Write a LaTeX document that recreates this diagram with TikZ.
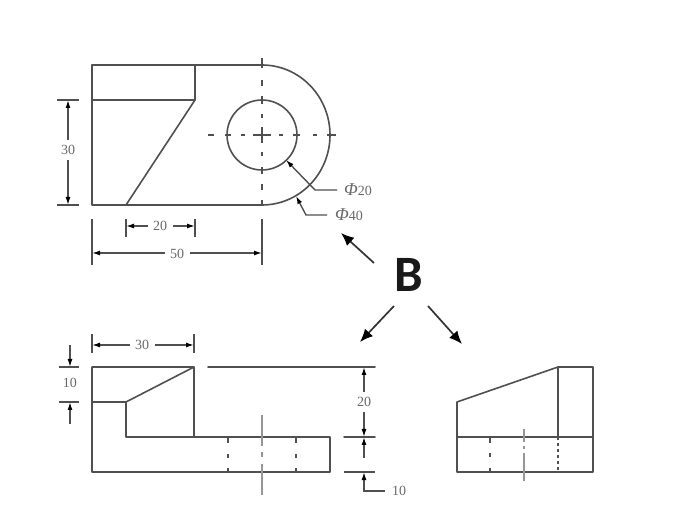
\documentclass[tikz,border=0pt]{standalone}
\usepackage{fontspec}
\setmainfont{Liberation Serif}
\newfontfamily\bigb{Carlito}
\newcommand{\diasym}{{\fontsize{18}{18}\selectfont\itshape Φ}}
\usetikzlibrary{arrows.meta}
\definecolor{ink}{HTML}{505050}
\tikzset{
  edge/.style={draw=ink,line width=1.6pt,line cap=round,line join=round},
  thin dim/.style={draw=ink,line width=1.4pt},
  dimtip/.style={thin dim,-{Latex[length=8pt,width=5pt,black]}},
  dimtext/.style={font=\fontsize{14}{15}\selectfont,text=ink!85,inner sep=0pt},
  axis/.style={draw=ink,line width=1.4pt},
  lightaxis/.style={draw=ink!60,line width=1.3pt},
  hid/.style={draw=ink,line width=1.3pt},
  bigarrow/.style={draw=black!80,line width=1.7pt,-{Latex[length=13pt,width=11pt,black]}},
}
\begin{document}
\begin{tikzpicture}[x=1pt,y=-1pt]
\useasboundingbox[fill=white] (0,0) rectangle (681,505);
% top view
\draw[edge] (262,65) -- (92,65) -- (92,205) -- (262,205);
\draw[edge] (262,65) arc[start angle=-90,end angle=90,x radius=68,y radius=70];
\draw[edge] (195,65) -- (195,100) -- (92,100);
\draw[edge] (195,100) -- (126,205);
\draw[edge] (262,135) circle[radius=35];
% centre lines
\foreach \ya/\yb in {58/68,80/86,96/104,114/118,127/143,152/156,167/174,184/190,200/206}
  \draw[axis] (262,\ya) -- (262,\yb);
\foreach \xa/\xb in {208/214,225/231,241/245,253/271,279/283,293/300,313/317,327/336}
  \draw[axis] (\xa,135) -- (\xb,135);
% top view dimensions
\draw[thin dim] (57,100) -- (79,100) (57,205) -- (79,205);
\draw[dimtip] (68,140) -- (68,100);
\draw[dimtip] (68,160) -- (68,205);
\node[dimtext] (t30a) at (68,150) {30};
\draw[thin dim] (126,219) -- (126,237) (195,219) -- (195,237);
\draw[dimtip] (148,226) -- (126,226);
\draw[dimtip] (173,226) -- (195,226);
\node[dimtext] (t20a) at (160,226) {20};
\draw[thin dim] (92,219) -- (92,265) (262,219) -- (262,265);
\draw[dimtip] (165,253) -- (92,253);
\draw[dimtip] (190,253) -- (262,253);
\node[dimtext] (t50) at (177,254) {50};
% leaders
\draw[dimtip] (337,190) -- (315,190) -- (286,160);
\draw[dimtip] (327,215) -- (306,215) -- (296,196);
\node[dimtext,anchor=west] (d20) at (344,190) {\diasym 20};
\node[dimtext,anchor=west] (d40) at (335,215) {\diasym 40};
% B and arrows
\node[font=\bigb\bfseries\fontsize{51}{51}\selectfont,text=black!90,inner sep=0pt] (B) at (409,275) {B};
\draw[bigarrow] (374,263) -- (341,233);
\draw[bigarrow] (394,306) -- (360,342);
\draw[bigarrow] (428,306) -- (462,344);
% front view
\draw[edge] (194,367) -- (92,367) -- (92,472) -- (330,472) -- (330,437) -- (126,437) -- (126,402) -- (194,367) -- (194,437);
\draw[edge] (92,402) -- (126,402);
\draw[edge] (208,367) -- (375,367);
\foreach \x in {228,296} \draw[hid] (\x,438) -- (\x,443) (\x,454) -- (\x,458) (\x,468) -- (\x,472);
\draw[lightaxis] (262,415) -- (262,446) (262,452) -- (262,457) (262,464) -- (262,495);
% front view dimensions
\draw[thin dim] (92,334) -- (92,353) (194,334) -- (194,353);
\draw[dimtip] (130,345) -- (92,345);
\draw[dimtip] (155,345) -- (194,345);
\node[dimtext] (t30b) at (142,345) {30};
\draw[thin dim] (59,367) -- (79,367) (59,402) -- (79,402);
\draw[dimtip] (70,345) -- (70,367);
\draw[dimtip] (70,424) -- (70,402);
\node[dimtext] (t10a) at (70,383) {10};
\draw[thin dim] (344,472) -- (375,472);
\draw[edge] (344,437) -- (375,437);
\draw[dimtip] (364,392) -- (364,367);
\draw[dimtip] (364,412) -- (364,437);
\node[dimtext] (t20b) at (364,402) {20};
\draw[dimtip] (364,458) -- (364,437);
\draw[dimtip] (385,491) -- (364,491) -- (364,472);
\node[dimtext] (t10b) at (399,491) {10};
% right view
\draw[edge] (457,402) -- (558,367) -- (593,367) -- (593,472) -- (457,472) -- cycle;
\draw[edge] (558,367) -- (558,437);
\draw[edge] (457,437) -- (593,437);
\draw[hid] (490,438) -- (490,443) (490,453) -- (490,457) (490,468) -- (490,472);
\draw[draw=ink,line width=1.5pt,dash pattern=on 3pt off 3pt] (558,437) -- (558,472);
\draw[lightaxis] (524,429) -- (524,442) (524,446) -- (524,449) (524,453) -- (524,481);
\end{tikzpicture}
\end{document}
